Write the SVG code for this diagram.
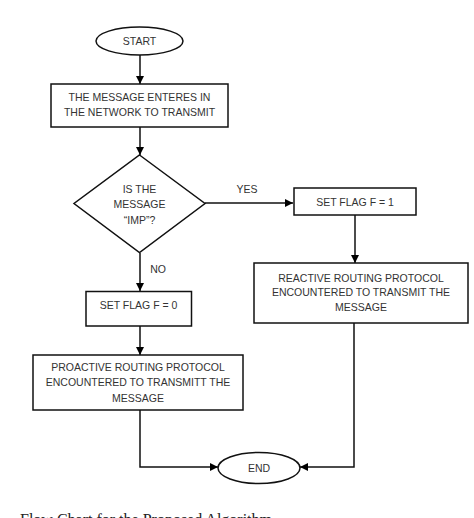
<svg xmlns="http://www.w3.org/2000/svg" width="474" height="518" viewBox="0 0 474 518">
<defs>
<marker id="ah" viewBox="0 0 10 10" refX="10" refY="5" markerWidth="8" markerHeight="8" markerUnits="userSpaceOnUse" orient="auto">
<path d="M0,0 L10,5 L0,10 Z" fill="#000"/>
</marker>
<style>
.n{fill:#fff;stroke:#111;stroke-width:1.5}
.t{font-family:"Liberation Sans","DejaVu Sans",sans-serif;font-size:10.5px;fill:#333;text-anchor:middle}
.c{fill:none;stroke:#111;stroke-width:1.5}
.a{marker-end:url(#ah)}
.cap{font-family:"Liberation Serif",serif;font-size:16px;fill:#222}
</style>
</defs>
<rect width="474" height="518" fill="#fff"/>
<g id="connectors">
<path class="c a" d="M140,55 V84"/>
<path class="c a" d="M140,127 V155"/>
<path class="c a" d="M205,203 H293"/>
<path class="c a" d="M355,215 V263"/>
<path class="c a" d="M140,253 V291"/>
<path class="c a" d="M140,326 V355"/>
<path class="c a" d="M140,410 V467 H218"/>
<path class="c a" d="M354,323 V467 H300"/>
<text class="t" x="247" y="193">YES</text>
<text class="t" x="158" y="273">NO</text>
</g>
<g id="start">
<ellipse class="n" cx="139.5" cy="41" rx="43.5" ry="14"/>
<text class="t" x="139.5" y="45">START</text>
</g>
<g id="enter">
<rect class="n" x="51" y="84" width="177" height="43"/>
<text class="t" x="139.5" y="101">THE MESSAGE ENTERES IN</text>
<text class="t" x="139.5" y="116">THE NETWORK TO TRANSMIT</text>
</g>
<g id="decision">
<path class="n" d="M139.5,155 L205,203.5 L139.5,252.5 L74,203.5 Z"/>
<text class="t" x="139.5" y="193">IS THE</text>
<text class="t" x="139.5" y="208">MESSAGE</text>
<text class="t" x="139.5" y="224">“IMP”?</text>
</g>
<g id="flag1">
<rect class="n" x="294" y="188" width="122" height="27"/>
<text class="t" x="355" y="205.5">SET FLAG F = 1</text>
</g>
<g id="reactive">
<rect class="n" x="254" y="263" width="214" height="60"/>
<text class="t" x="361" y="281.5">REACTIVE ROUTING PROTOCOL</text>
<text class="t" x="361" y="296">ENCOUNTERED TO TRANSMIT THE</text>
<text class="t" x="361" y="311">MESSAGE</text>
</g>
<g id="flag0">
<rect class="n" x="86" y="291.5" width="105.5" height="34.5"/>
<text class="t" x="138.5" y="309">SET FLAG F = 0</text>
</g>
<g id="proactive">
<rect class="n" x="33" y="355" width="210" height="55"/>
<text class="t" x="138" y="371">PROACTIVE ROUTING PROTOCOL</text>
<text class="t" x="138" y="386">ENCOUNTERED TO TRANSMITT THE</text>
<text class="t" x="138" y="401.5">MESSAGE</text>
</g>
<g id="end">
<ellipse class="n" cx="259" cy="468" rx="41" ry="15.5"/>
<text class="t" x="259" y="472">END</text>
</g>
<text class="cap" x="20" y="525">Flow Chart for the Proposed Algorithm</text>
</svg>
